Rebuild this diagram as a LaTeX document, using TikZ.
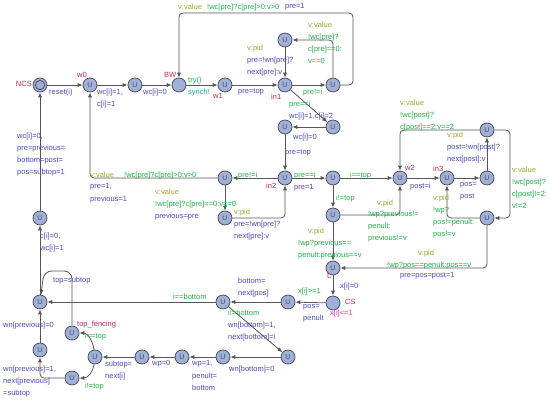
\documentclass[tikz,border=0pt]{standalone}
\usepackage{fontspec}
\setmainfont{Liberation Sans}
\usetikzlibrary{arrows.meta}
\definecolor{selc}{RGB}{165,165,45}
\definecolor{guardc}{RGB}{30,175,70}
\definecolor{updc}{RGB}{75,75,185}
\definecolor{syncc}{RGB}{30,170,170}
\definecolor{namec}{RGB}{185,40,95}
\definecolor{invc}{RGB}{215,50,175}
\definecolor{locfill}{RGB}{160,176,214}
\definecolor{locdraw}{RGB}{70,72,90}
\definecolor{edgec}{RGB}{85,85,85}
\newcommand{\Sel}[1]{\textcolor{selc}{#1}}
\newcommand{\Grd}[1]{\textcolor{guardc}{#1}}
\newcommand{\Upd}[1]{\textcolor{updc}{#1}}
\begin{document}
\begin{tikzpicture}[x=1pt,y=-1pt,
  loc/.style={circle,draw=locdraw,fill=locfill,line width=0.7pt,minimum size=14pt,inner sep=0pt},
  urg/.style={loc,font=\fontsize{7}{7}\selectfont,text=locdraw},
  e/.style={draw=edgec,line width=0.8pt,rounded corners=4pt,-{Latex[length=5pt,width=4.2pt]}},
  lab/.style={inner sep=0pt,anchor=north west,align=left,yshift=3.6pt,font=\fontsize{7.5}{12.3}\selectfont},
  upd/.style={lab,text=updc},
  grd/.style={lab,text=guardc},
  sel/.style={lab,text=selc},
  syn/.style={lab,text=syncc},
  nm/.style={lab,text=namec},
  inv/.style={lab,text=invc}]
\fill[white] (0,0) rectangle (550,403);
\useasboundingbox (0,0) rectangle (550,403);
% locations
\node[loc] (NCS) at (40,85) {};
\draw[locdraw,line width=0.7pt] (NCS.center) circle (4.6pt);
\node[urg] (w0) at (90,85) {U};
\node[urg] (na) at (135,85) {U};
\node[loc] (BW) at (179,85) {};
\node[urg] (w1) at (225,85) {U};
\node[urg] (in1) at (285,85) {U};
\node[urg] (nb) at (285,40) {U};
\node[urg] (nc) at (333,85) {U};
\node[urg] (nd) at (333,127) {U};
\node[urg] (ne) at (285,127) {U};
\node[urg] (in2) at (285,178) {U};
\node[urg] (nf) at (225,178) {U};
\node[urg] (ng) at (225,218) {U};
\node[urg] (nh) at (333,178) {U};
\node[urg] (ni) at (333,215) {U};
\node[urg] (L) at (333,268) {U};
\node[loc] (CS) at (333,303) {};
\node[urg] (w2) at (400,178) {U};
\node[urg] (in3) at (447,178) {U};
\node[urg] (nj) at (487,178) {U};
\node[urg] (nk) at (487,130) {U};
\node[urg] (nl) at (487,218) {U};
\node[urg] (nmm) at (288,302) {U};
\node[urg] (nn) at (223,302) {U};
\node[urg] (no) at (288,357) {U};
\node[urg] (np) at (223,357) {U};
\node[urg] (nq) at (182,357) {U};
\node[urg] (nr) at (142,357) {U};
\node[urg] (ns) at (95,357) {U};
\node[urg] (tf) at (72,333) {U};
\node[urg] (nt) at (72,378) {U};
\node[urg] (nu) at (40,302) {U};
\node[urg] (nv) at (40,350) {U};
\node[urg] (nw) at (40,218) {U};
% edges
\draw[e] (NCS) -- (w0);
\draw[e] (w0) -- (na);
\draw[e] (na) -- (BW);
\draw[e] (BW) -- (w1);
\draw[e] (w1) -- (in1);
\draw[e] (in1) -- (nc);
\draw[e] (nc) |- (nb);
\draw[e] (nb) -- (in1);
\draw[e] (nc) -- (353,85) -- (353,13) -- (179,13) -- (BW);
\draw[e] (in1) -- (nd);
\draw[e] (nd) -- (ne);
\draw[e] (ne) -- (in2);
\draw[e] (in2) -- (nh);
\draw[e] (nh) -- (w2);
\draw[e] (nh) -- (ni);
\draw[e] (ni) -| (w2);
\draw[e] (ni) -- (L);
\draw[e] (in2) -- (nf);
\draw[e] (nf) -| (w0);
\draw[e] (nf) -- (ng);
\draw[e] (ng) -| (in2);
\draw[e] (w2) -- (in3);
\draw[e] (in3) -- (nj);
\draw[e] (nj) -- (nk);
\draw[e] (nk) -| (w2);
\draw[e] (nk) -- (510,130) -- (510,218) -- (nl);
\draw[e] (nl) -| (in3);
\draw[e] (nl) |- (L);
\draw[e] (L) -- (CS);
\draw[e] (CS) -- (nmm);
\draw[e] (nmm) -- (nn);
\draw[e] (nn) -- (nu);
\draw[e] (nn) -- (no);
\draw[e] (no) -- (np);
\draw[e] (np) -- (nq);
\draw[e] (nq) -- (nr);
\draw[e] (nr) -- (ns);
\draw[e] (ns) .. controls (93,342) and (88,333) .. (tf);
\draw[e] (ns) .. controls (93,372) and (88,378) .. (nt);
\draw[e,rounded corners=8pt] (tf) -- (72,271) -- (44,271) -- (nu);
\draw[e] (nt) -| (nv);
\draw[e] (nv) -- (nu);
\draw[e] (nu) -- (nw);
\draw[e] (nw) -- (NCS);
% location names
\node[nm,anchor=north east] (n1) at (32,85) {NCS};
\node[nm] (n2) at (77,76) {w0};
\node[nm] (n3) at (164,76) {BW};
\node[nm] (n4) at (213,97) {w1};
\node[nm] (n5) at (271,97) {in1};
\node[nm] (n6) at (266,186) {in2};
\node[nm] (n7) at (327,277) {L};
\node[nm] (n8) at (345,303) {CS};
\node[inv] (n9) at (330,313) {x[i]<=1};
\node[nm] (n10) at (405,169) {w2};
\node[nm] (n11) at (433,169) {in3};
\node[nm] (n12) at (77,324) {top\_fencing};
% edge labels
\node[upd] (t1) at (49,92) {reset(i)};
\node[upd] (t2) at (97,92) {wc[i]=1,\\ c[i]=1};
\node[upd] (t3) at (143,92) {wc[i]=0};
\node[grd] (t4) at (188,80) {try()};
\node[syn] (t5) at (188,92) {synch!};
\node[upd] (t6) at (238,92) {pre=top};
\node[grd] (t7) at (303,92) {pre!=i};
\node[sel] (t8a) at (178,7) {v:value};
\node[grd] (t8b) at (207,7) {!wc[pre]?c[pre]>0:v>0};
\node[upd] (t8c) at (285,7) {pre=1};
\node[lab] (t9) at (308,25) {\Sel{v:value}\\ \Grd{!wc[pre]?}\\ \Grd{c[pre]==0:}\\ \Grd{v==0}};
\node[lab] (t10) at (247,48) {\Sel{v:pid}\\ \Upd{pre=!wn[pre]?}\\ \Upd{next[pre]:v}};
\node[lab] (t11) at (289,104) {\Grd{pre==i}\\ \Upd{wc[i]=1,c[i]=2}};
\node[upd] (t12) at (293,137) {wc[i]=0};
\node[upd] (t13) at (285,153) {pre=top};
\node[lab] (t14) at (294,175) {\Grd{pre==i}\\ \Upd{pre=1}};
\node[grd] (t15) at (350,175) {i==top};
\node[grd] (t16) at (336,198) {i!=top};
\node[sel] (t17a) at (377,203) {v:pid};
\node[grd] (t17b) at (368,214) {!wp?previous!=\\ penult:\\ previous!=v};
\node[sel] (t18a) at (308,231) {v:pid};
\node[grd] (t18b) at (298,243) {!wp?previous==\\ penult:previous==v};
\node[grd] (t19) at (238,175) {pre!=i};
\node[sel] (t20a) at (90,175) {v:value};
\node[grd] (t20b) at (124,175) {!wc[pre]?c[pre]>0:v>0};
\node[upd] (t20c) at (90,187) {pre=1,\\ previous=1};
\node[lab] (t21) at (155,192) {\Sel{v:value}\\ \Grd{!wc[pre]?c[pre]==0:v==0}\\ \Upd{previous=pre}};
\node[lab] (t22) at (234,212) {\Sel{v:pid}\\ \Upd{pre=!wn[pre]?}\\ \Upd{next[pre]:v}};
\node[upd] (t23) at (410,186) {post=i};
\node[upd] (t24) at (460,186) {pos=\\ post};
\node[lab] (t25) at (447,135) {\Sel{v:pid}\\ \Upd{post=!wn[post]?}\\ \Upd{next[post]:v}};
\node[lab] (t26) at (400,103) {\Sel{v:value}\\ \Grd{!wc[post]?}\\ \Grd{c[post]==2:v==2}};
\node[lab] (t27) at (512,170) {\Sel{v:value}\\ \Grd{!wc[post]?}\\ \Grd{c[post]!=2:}\\ \Grd{v!=2}};
\node[lab] (t28) at (433,198) {\Sel{v:pid}\\ \Grd{!wp?}\\ \Grd{pos!=penult:}\\ \Grd{pos!=v}};
\node[sel] (t29a) at (418,253) {v:pid};
\node[grd] (t29b) at (387,265) {!wp?pos==penult:pos==v};
\node[upd] (t29c) at (400,276) {pre=pos=post=1};
\node[upd] (t30) at (340,286) {x[i]=0};
\node[grd] (t31a) at (298,291) {x[i]>=1};
\node[upd] (t31b) at (303,308) {pos=\\ penult};
\node[upd] (t32) at (238,281) {bottom=\\ next[pos]};
\node[grd] (t33) at (173,297) {i==bottom};
\node[lab] (t34) at (228,313) {\Grd{i!=bottom}\\ \Upd{wn[bottom]=1,}\\ \Upd{next[bottom]=i}};
\node[upd] (t35) at (229,369) {wn[bottom]=0};
\node[upd] (t36) at (192,364) {wp=1,\\ penult=\\ bottom};
\node[upd] (t37) at (152,364) {wp=0};
\node[upd] (t38) at (105,364) {subtop=\\ next[i]};
\node[grd] (t39) at (85,336) {i==top};
\node[grd] (t40) at (85,386) {i!=top};
\node[upd] (t41) at (3,369) {wn[previous]=1,\\ next[previous]\\ =subtop};
\node[upd] (t42) at (3,325) {wn[previous]=0};
\node[upd] (t43) at (53,280) {top=subtop};
\node[upd] (t44) at (40,236) {c[i]=0,\\ wc[i]=1};
\node[upd] (t45) at (17,136) {wc[i]=0,\\ pre=previous=\\ bottom=post=\\ pos=subtop=1};
\end{tikzpicture}
\end{document}
